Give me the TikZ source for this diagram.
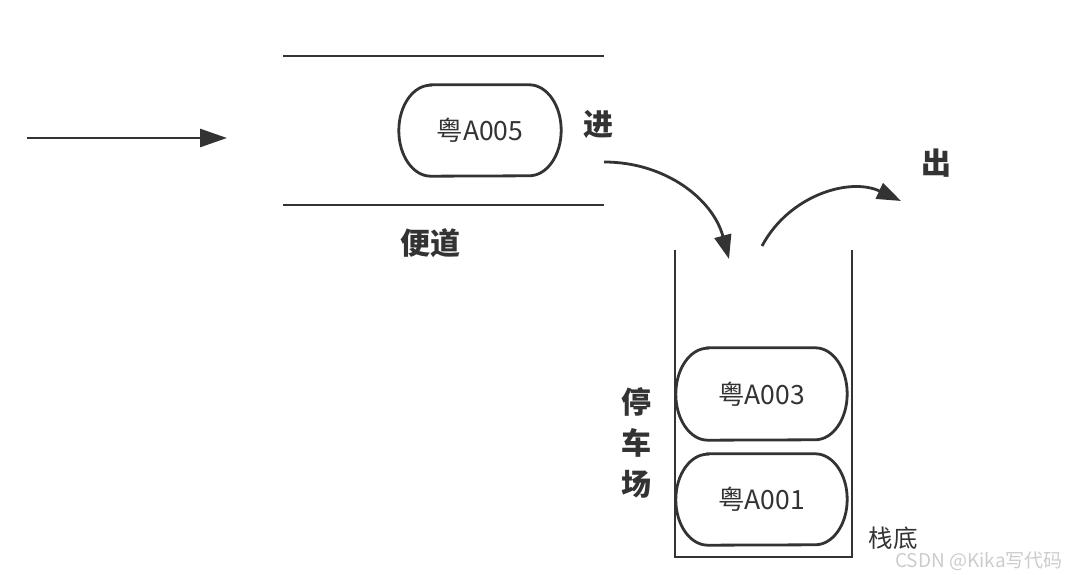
\documentclass[tikz,border=0pt]{standalone}
\usepackage{fontspec}
\newfontfamily\cjk{Noto Sans CJK SC}
\usetikzlibrary{arrows.meta,calc}
\definecolor{ink}{HTML}{333333}
\tikzset{
  lane/.style={line width=2.8pt, draw=ink},
  flow/.style={line width=2.8pt, draw=ink, -{Triangle[length=24pt,width=17pt]}},
  carbox/.style={rectangle, inner sep=0pt, font=\cjk\fontsize{26.5}{28}\selectfont, text=ink},
  carline/.style={line width=2.8pt, draw=ink},
  biglabel/.style={font=\cjk\bfseries\fontsize{30}{41}\selectfont, text=ink, align=center},
  small/.style={font=\cjk\fontsize{24.5}{26}\selectfont, text=ink},
  wmark/.style={font=\cjk\fontsize{19}{21}\selectfont, text=black!20}
}
\begin{document}
\begin{tikzpicture}[x=1pt,y=1pt]
\useasboundingbox (0,0) rectangle (1073,575);
% incoming arrow
\coordinate (s0) at (27,437);
\coordinate (s1) at (227,437);
\draw[line width=2.8pt, draw=ink, -{Triangle[length=27pt,width=18pt]}] (s0) -- (s1);
% side lane
\coordinate (t0) at (283,519); \coordinate (t1) at (604,519);
\coordinate (b0) at (283,370); \coordinate (b1) at (604,370);
\draw[lane] (t0) -- (t1);
\draw[lane] (b0) -- (b1);
% cars
\node[carbox, minimum width=162pt, minimum height=91pt] (a5) at (480,444.5) {粤A005};
\node[carbox, minimum width=171pt, minimum height=92pt] (a3) at (761.5,181) {粤A003};
\node[carbox, minimum width=171pt, minimum height=91pt] (a1) at (761.5,75.5) {粤A001};
\foreach \n/\h in {a5/45.5,a3/46,a1/45.5}{
  \draw[carline] ($(\n.north west)+(32,0)$) -- ($(\n.north east)+(-32,0)$)
    arc[start angle=90,end angle=-90,x radius=32,y radius=\h]
    -- ($(\n.south west)+(32,0)$)
    arc[start angle=270,end angle=90,x radius=32,y radius=\h] -- cycle;
}
% labels
\node[biglabel] (jin) at (598,451) {进};
\node[biglabel] (bd) at (430,332) {便道};
\node[biglabel] (chu) at (936,412) {出};
\node[biglabel] (tcc) at (636,132) {停\\车\\场};
\node[small] (zd) at (893,37) {栈底};
\node[wmark, anchor=north] (wm) at (979,27) {CSDN @Kika写代码};
% stack container
\coordinate (l0) at (675,325); \coordinate (l1) at (675,18);
\coordinate (r0) at (852,325); \coordinate (r1) at (852,18);
\draw[line width=2.8pt, draw=ink] (l0) -- (l1) -- (r1) -- (r0);
% in / out curves
\coordinate (i0) at (604,413); \coordinate (i1) at (729,316);
\coordinate (o0) at (762,329); \coordinate (o1) at (901,374);
\draw[flow] (i0) to[out=0,in=105] (i1);
\draw[flow] (o0) to[out=62,in=155] (o1);
\end{tikzpicture}
\end{document}
